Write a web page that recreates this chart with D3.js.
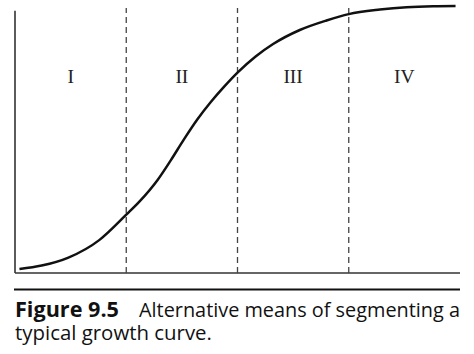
<!DOCTYPE html>
<html>
<head>
<meta charset="utf-8">
<script src="https://cdn.jsdelivr.net/npm/d3@7"></script>
<style>
  html, body { margin: 0; padding: 0; background: #fff; }
</style>
</head>
<body>
<div id="chart"></div>
<script>
// growth curve (x: 0-100 time, y: 0-100 size)
const growthX = [1, 6, 12, 19, 25, 28, 32, 35, 38, 41, 44, 47, 50, 54, 58, 64, 70, 75, 82, 88, 94, 99];
const growthY = [1.5, 2.8, 5.8, 12.5, 22, 27, 35, 42.5, 50.5, 58, 64.5, 70.3, 75.6, 81.6, 86.4, 91.7, 95.3, 97.7, 99.4, 100.3, 100.7, 100.8];
// segment boundaries and their labels
const segmentBreaks = [25, 50, 75];
const segmentLabels = ["I", "II", "III", "IV"];
const captionBold = "Figure 9.5";
const captionRest = "Alternative means of segmenting a";
const captionLine2 = "typical growth curve.";

function drawChart() {
    const width = 474;
    const height = 354;
    const margin = { top: 8, right: 14, bottom: 81, left: 15 };

    const svg = d3.select("#chart")
        .append("svg")
        .attr("width", width)
        .attr("height", height)
        .style("background", "#fff");

    const x = d3.scaleLinear()
        .domain([0, 100])
        .range([margin.left, width - margin.right]);

    const y = d3.scaleLinear()
        .domain([0, 100])
        .range([height - margin.bottom, margin.top]);

    // axes (plain lines, no ticks)
    svg.append("line")
        .attr("x1", x(0)).attr("x2", x(0))
        .attr("y1", y(0)).attr("y2", y(99))
        .attr("stroke", "#333").attr("stroke-width", 1.6);

    svg.append("line")
        .attr("x1", x(0)).attr("x2", x(100))
        .attr("y1", y(0)).attr("y2", y(0))
        .attr("stroke", "#333").attr("stroke-width", 1.6);

    // dashed segment dividers
    svg.selectAll(".divider")
        .data(segmentBreaks)
        .enter()
        .append("line")
        .attr("class", "divider")
        .attr("x1", d => x(d)).attr("x2", d => x(d))
        .attr("y1", y(0)).attr("y2", y(100))
        .attr("stroke", "#444")
        .attr("stroke-width", 1.3)
        .attr("stroke-dasharray", "6,4");

    // roman numerals centred in each segment
    const bounds = [0, ...segmentBreaks, 100];
    svg.selectAll(".seg-label")
        .data(segmentLabels)
        .enter()
        .append("text")
        .attr("class", "seg-label")
        .attr("x", (d, i) => x((bounds[i] + bounds[i + 1]) / 2))
        .attr("y", y(71.8))
        .attr("text-anchor", "middle")
        .style("font-family", "'Liberation Serif', 'DejaVu Serif', serif")
        .style("font-size", "19.5px")
        .style("fill", "#222")
        .text(d => d);

    // the growth curve
    const pts = growthX.map((d, i) => [d, growthY[i]]);
    const line = d3.line()
        .x(d => x(d[0]))
        .y(d => y(d[1]))
        .curve(d3.curveMonotoneX);

    svg.append("path")
        .datum(pts)
        .attr("d", line)
        .attr("fill", "none")
        .attr("stroke", "#111")
        .attr("stroke-width", 2.5);

    // caption rule
    svg.append("line")
        .attr("x1", 14).attr("x2", 460)
        .attr("y1", 289.5).attr("y2", 289.5)
        .attr("stroke", "#111").attr("stroke-width", 2.2);

    // caption text
    const capFont = "'Open Sans', 'Noto Sans', sans-serif";
    const t1 = svg.append("text")
        .attr("x", 15).attr("y", 317)
        .style("font-family", capFont)
        .style("font-weight", "bold")
        .style("font-size", "16px")
        .style("fill", "#111")
        .text(captionBold);

    const t2 = svg.append("text")
        .attr("x", 139).attr("y", 317)
        .style("font-family", capFont)
        .style("font-size", "16px")
        .style("fill", "#111")
        .text(captionRest);

    const t3 = svg.append("text")
        .attr("x", 15).attr("y", 340)
        .style("font-family", capFont)
        .style("font-size", "16px")
        .style("fill", "#111")
        .text(captionLine2);

    // scale font sizes so line widths match the printed caption
    const fitTo = (sel, target) => {
        const w = sel.node().getComputedTextLength();
        sel.style("font-size", (16 * target / w).toFixed(2) + "px");
    };
    fitTo(t1, 104);
    fitTo(t2, 321);
    fitTo(t3, 197);
}

drawChart();
</script>
</body>
</html>
